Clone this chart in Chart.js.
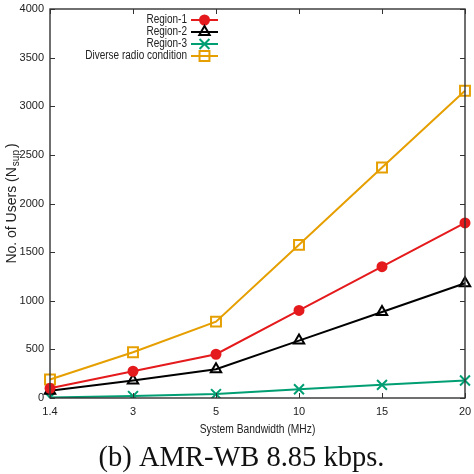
<!DOCTYPE html>
<html>
<head>
<meta charset="utf-8">
<script src="https://cdn.jsdelivr.net/npm/chart.js@4/dist/chart.umd.min.js"></script>
<style>
  html, body { margin: 0; padding: 0; background: #fff; }
  #wrap { width: 474px; height: 474px; }
</style>
</head>
<body>
<div id="wrap"><canvas id="chart"></canvas></div>
<script>
var bandwidth = ["1.4", "3", "5", "10", "15", "20"]
var region1 = [100, 275, 450, 900, 1350, 1800]
var region2 = [75, 180, 295, 590, 885, 1180]
var region3 = [5, 20, 40, 90, 135, 180]
var diverse = [190, 470, 785, 1575, 2370, 3160]
var yTicks = [0, 500, 1000, 1500, 2000, 2500, 3000, 3500, 4000]
var xTitle = "System Bandwidth (MHz)"
var caption = "(b) AMR-WB 8.85 kbps."

const sans = "'Liberation Sans', Arial, sans-serif"
const axisFont = { family: sans, size: 11 }

// squeezed text, like the narrow Helvetica of the original figure
function narrowText(ctx, text, x, y, align, font, squeeze) {
    ctx.save()
    ctx.font = font
    ctx.textAlign = align
    ctx.textBaseline = "middle"
    ctx.translate(x, y)
    ctx.scale(squeeze, 1)
    ctx.fillText(text, 0, 0)
    ctx.restore()
}

// frame, inward ticks on all four sides, titles, legend, caption
const decorPlugin = {
    id: "decor",
    afterDatasetsDraw(chart) {
        const ctx = chart.ctx
        const a = chart.chartArea
        const xs = chart.scales.x
        const ys = chart.scales.y
        ctx.save()
        ctx.strokeStyle = "#333"
        ctx.lineWidth = 1
        ctx.beginPath()
        for (var i = 0; i < xs.ticks.length; i++) {
            var px = Math.round(xs.getPixelForTick(i)) + 0.5
            ctx.moveTo(px, a.bottom); ctx.lineTo(px, a.bottom - 5)
            ctx.moveTo(px, a.top); ctx.lineTo(px, a.top + 5)
        }
        for (var j = 0; j < yTicks.length; j++) {
            var py = Math.round(ys.getPixelForValue(yTicks[j])) + 0.5
            ctx.moveTo(a.left, py); ctx.lineTo(a.left + 5, py)
            ctx.moveTo(a.right, py); ctx.lineTo(a.right - 5, py)
        }
        ctx.stroke()
        ctx.lineWidth = 1.4
        ctx.strokeRect(a.left, a.top, a.right - a.left, a.bottom - a.top)
        ctx.restore()

        ctx.save()
        ctx.fillStyle = "#222"
        // x title
        narrowText(ctx, xTitle, (a.left + a.right) / 2, 430, "center", "12.5px " + sans, 0.82)

        // y title with subscript
        ctx.translate(12, (a.top + a.bottom) / 2)
        ctx.rotate(-Math.PI / 2)
        ctx.textBaseline = "middle"
        var big = "14px " + sans
        var small = "10px " + sans
        var main = "No. of Users (N"
        var sub = "sup"
        var tail = ")"
        ctx.font = big
        var w1 = ctx.measureText(main).width
        var w3 = ctx.measureText(tail).width
        ctx.font = small
        var w2 = ctx.measureText(sub).width
        var x0 = -(w1 + w2 + w3 + 3) / 2
        ctx.textAlign = "left"
        ctx.font = big
        ctx.fillText(main, x0, 0)
        ctx.font = small
        ctx.fillText(sub, x0 + w1 + 1, 4)
        ctx.font = big
        ctx.fillText(tail, x0 + w1 + w2 + 3, 0)
        ctx.restore()

        // legend: right-aligned labels, sample line with marker on the right
        ctx.save()
        var rowY = [20, 32, 44, 56]
        chart.data.datasets.forEach(function (ds, k) {
            var y = rowY[k]
            ctx.fillStyle = "#222"
            narrowText(ctx, ds.label, 187, y, "right", "12.5px " + sans, 0.8)
            ctx.strokeStyle = ds.borderColor
            ctx.lineWidth = 2
            ctx.beginPath()
            ctx.moveTo(191, y); ctx.lineTo(218, y)
            ctx.stroke()
            ctx.fillStyle = ds.pointBackgroundColor
            ctx.strokeStyle = ds.borderColor
            ctx.lineWidth = ds.pointBorderWidth
            Chart.helpers.drawPoint(ctx, {
                pointStyle: ds.pointStyle,
                radius: ds.pointRadius,
                borderWidth: ds.pointBorderWidth
            }, 204.5, y)
        })
        ctx.restore()

        // caption under the figure
        ctx.save()
        ctx.fillStyle = "#111"
        ctx.font = "28.5px 'Liberation Serif', 'Times New Roman', serif"
        ctx.textAlign = "center"
        ctx.textBaseline = "alphabetic"
        ctx.fillText(caption, 241.5, 466)
        ctx.restore()
    }
}

function series(label, data, color, style, radius, fill) {
    return {
        label: label,
        data: data,
        borderColor: color,
        backgroundColor: color,
        borderWidth: 2,
        pointStyle: style,
        pointRadius: radius,
        pointHoverRadius: radius,
        pointBorderWidth: 2,
        pointBorderColor: color,
        pointBackgroundColor: fill,
        tension: 0
    }
}

new Chart(document.getElementById("chart"), {
    type: "line",
    data: {
        labels: bandwidth,
        datasets: [
            series("Region-1", region1, "#e41a1c", "circle", 4.5, "#e41a1c"),
            series("Region-2", region2, "#000000", "triangle", 6, "rgba(255,255,255,0)"),
            series("Region-3", region3, "#009e73", "crossRot", 7, "rgba(255,255,255,0)"),
            series("Diverse radio condition", diverse, "#e69f00", "rect", 7, "rgba(255,255,255,0)")
        ]
    },
    plugins: [decorPlugin],
    options: {
        responsive: true,
        maintainAspectRatio: false,
        animation: false,
        layout: { padding: { top: 8, right: 7, left: 0, bottom: 0 } },
        scales: {
            x: {
                type: "category",
                offset: false,
                grid: { display: false, drawTicks: false },
                border: { display: false },
                ticks: { color: "#222", font: axisFont, padding: 7, maxRotation: 0, autoSkip: false },
                afterFit: function (s) { s.height = 76; s.paddingRight = 0; s.paddingLeft = 0 }
            },
            y: {
                min: 0,
                max: 4000,
                grid: { display: false, drawTicks: false },
                border: { display: false },
                ticks: {
                    stepSize: 500,
                    color: "#222",
                    font: axisFont,
                    padding: 6,
                    callback: function (v) { return String(v) }
                },
                afterFit: function (s) { s.width = 50; s.paddingTop = 0; s.paddingBottom = 0 }
            }
        },
        plugins: {
            legend: { display: false },
            tooltip: { enabled: false },
            title: { display: false }
        }
    }
});
</script>
</body>
</html>
